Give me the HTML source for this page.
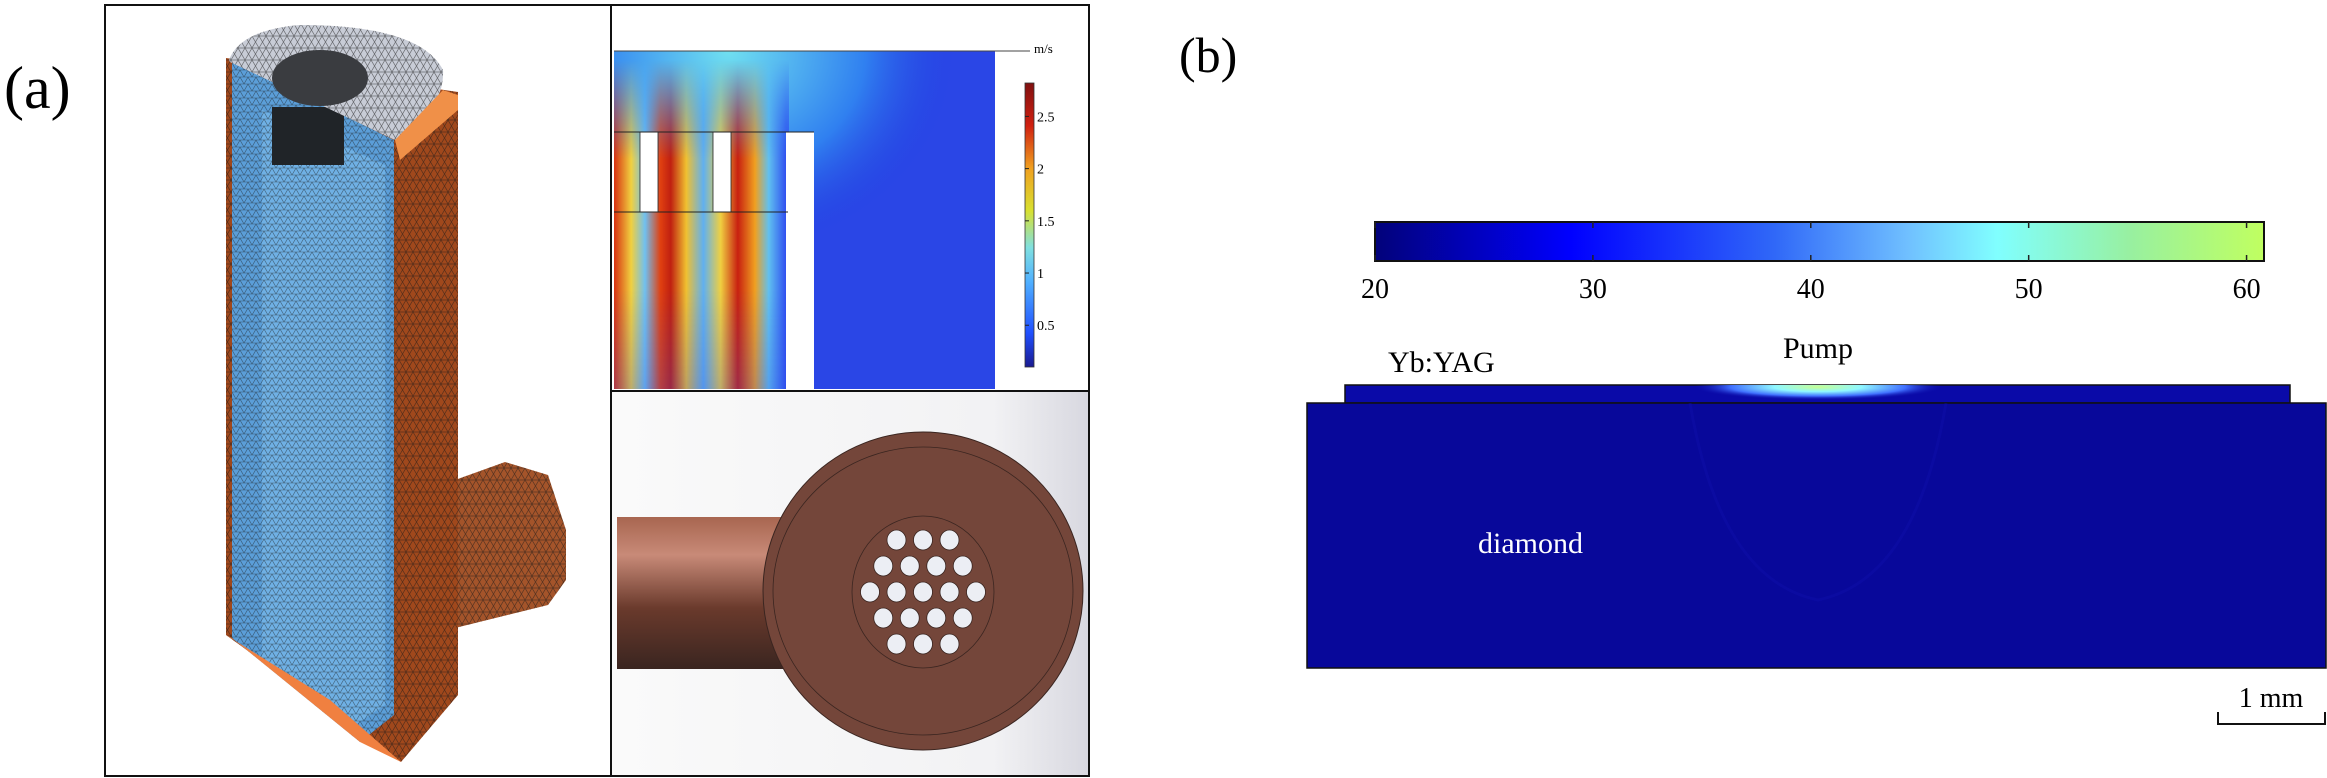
<!DOCTYPE html>
<html><head><meta charset="utf-8"><style>
html,body{margin:0;padding:0;background:#fff;}
svg{display:block;}
text{font-family:"Liberation Serif",serif;}
</style></head><body>
<svg width="2327" height="778" viewBox="0 0 2327 778" xmlns="http://www.w3.org/2000/svg">
<defs>
<pattern id="mesh" width="14" height="12" patternUnits="userSpaceOnUse">
<path d="M0 0H14M0 12H14M0 0L7 12L14 0M0 12L7 0L14 12" stroke="#1a1a1a" stroke-width="0.7" fill="none" opacity="0.55"/>
</pattern>
<pattern id="meshfine" width="8" height="7" patternUnits="userSpaceOnUse">
<path d="M0 0H8M0 7H8M0 0L4 7L8 0" stroke="#1a1a1a" stroke-width="0.6" fill="none" opacity="0.55"/>
</pattern>
<linearGradient id="jetV" x1="0" y1="1" x2="0" y2="0">
<stop offset="0" stop-color="#1a1a90"/><stop offset="0.12" stop-color="#2050ff"/><stop offset="0.3" stop-color="#50b0ff"/><stop offset="0.42" stop-color="#80e0e0"/><stop offset="0.55" stop-color="#d8e030"/><stop offset="0.7" stop-color="#f0a020"/><stop offset="0.85" stop-color="#d02010"/><stop offset="1" stop-color="#801010"/>
</linearGradient>
<linearGradient id="streaks" x1="614" y1="0" x2="786" y2="0" gradientUnits="userSpaceOnUse">
<stop offset="0" stop-color="#d83010"/><stop offset="0.1" stop-color="#f0d040"/><stop offset="0.18" stop-color="#70c0f0"/><stop offset="0.27" stop-color="#e04010"/><stop offset="0.33" stop-color="#c02010"/><stop offset="0.42" stop-color="#f0c030"/><stop offset="0.52" stop-color="#60b0f0"/><stop offset="0.62" stop-color="#f0d040"/><stop offset="0.72" stop-color="#c82010"/><stop offset="0.82" stop-color="#f0a020"/><stop offset="0.9" stop-color="#60c0f0"/><stop offset="1" stop-color="#3050f0"/>
</linearGradient>
<linearGradient id="fade" x1="0" y1="0" x2="0" y2="1">
<stop offset="0" stop-color="#fff" stop-opacity="0"/><stop offset="0.3" stop-color="#fff" stop-opacity="1"/><stop offset="0.7" stop-color="#fff" stop-opacity="1"/><stop offset="1" stop-color="#fff" stop-opacity="0.75"/>
</linearGradient>
<mask id="fmask"><rect x="614" y="60" width="175" height="329" fill="url(#fade)"/></mask>
<radialGradient id="topglow" cx="0.3" cy="0" r="0.6">
<stop offset="0" stop-color="#70e0f0"/><stop offset="0.6" stop-color="#3080f0"/><stop offset="1" stop-color="#2040e0" stop-opacity="0"/>
</radialGradient>
<linearGradient id="pipeG" x1="0" y1="0" x2="0" y2="1">
<stop offset="0" stop-color="#a86650"/><stop offset="0.25" stop-color="#c88a78"/><stop offset="0.6" stop-color="#6a3a2c"/><stop offset="1" stop-color="#3a2520"/>
</linearGradient>
<linearGradient id="bgG" x1="0" y1="0" x2="1" y2="0">
<stop offset="0" stop-color="#fafafa"/><stop offset="0.8" stop-color="#f2f2f4"/><stop offset="1" stop-color="#d8d8e0"/>
</linearGradient>
<linearGradient id="tempG" x1="0" y1="0" x2="1" y2="0">
<stop offset="0" stop-color="#02027a"/><stop offset="0.22" stop-color="#0000ff"/><stop offset="0.45" stop-color="#3068f8"/><stop offset="0.6" stop-color="#70c0ff"/><stop offset="0.7" stop-color="#80ffff"/><stop offset="0.85" stop-color="#98f0a0"/><stop offset="1" stop-color="#c0ff60"/>
</linearGradient>
<radialGradient id="hot" cx="0.5" cy="0.5" r="0.5">
<stop offset="0" stop-color="#c8ff90"/><stop offset="0.35" stop-color="#90f8ff"/><stop offset="0.7" stop-color="#4070ff"/><stop offset="1" stop-color="#0a0aa8" stop-opacity="0"/>
</radialGradient>
<clipPath id="yagclip"><rect x="1345" y="385" width="945" height="18"/></clipPath>
</defs>

<!-- Panel (a) -->
<text x="4" y="108" font-size="60">(a)</text>
<rect x="105" y="5" width="984" height="771" fill="none" stroke="#111" stroke-width="2"/>
<line x1="611" y1="5" x2="611" y2="776" stroke="#111" stroke-width="2"/>
<line x1="611" y1="391" x2="1089" y2="391" stroke="#111" stroke-width="2"/>

<g>
<path d="M455 480 L505 462 L548 475 L566 530 L566 580 L548 605 L455 628 Z" fill="#a4542a"/>
<path d="M455 480 L505 462 L548 475 L566 530 L566 580 L548 605 L455 628 Z" fill="url(#mesh)"/>
<path d="M226 58 L458 92 L458 695 L401 762 L226 635 Z" fill="#a0481c"/>
<path d="M226 58 L458 92 L458 695 L401 762 L226 635 Z" fill="url(#mesh)"/>
<path d="M232 60 L394 140 L394 715 L360 742 L232 638 Z" fill="#5b9ed8"/>
<path d="M262 110 L385 165 L385 705 L355 725 L262 660 Z" fill="#6fb0e4"/>
<path d="M232 60 L394 140 L394 715 L360 742 L232 638 Z" fill="url(#meshfine)"/>
<path d="M226 635 L232 638 L360 742 L401 762 L330 700 Z" fill="#f08040"/>
<rect x="272" y="107" width="72" height="58" fill="#202428"/>
<path d="M229 60 Q240 30 300 25 Q420 25 443 70 Q445 110 395 140 L230 62 Z" fill="#c8ccd6"/>
<path d="M229 60 Q240 30 300 25 Q420 25 443 70 Q445 110 395 140 L230 62 Z" fill="url(#mesh)"/>
<ellipse cx="320" cy="78" rx="48" ry="28" fill="#3a3c40"/>
<path d="M395 140 L443 90 L458 95 L458 110 L400 160 Z" fill="#f09048"/>
</g>

<g>
<rect x="614" y="51" width="381" height="338" fill="#2a46e6"/>
<rect x="614" y="51" width="381" height="338" fill="url(#topglow)"/>
<rect x="614" y="60" width="175" height="329" fill="url(#streaks)" mask="url(#fmask)"/>
<rect x="640" y="132" width="18" height="80" fill="#fff" stroke="#222" stroke-width="0.8"/>
<rect x="713" y="132" width="18" height="80" fill="#fff" stroke="#222" stroke-width="0.8"/>
<rect x="786" y="132" width="28" height="257" fill="#fff"/>
<line x1="614" y1="132" x2="814" y2="132" stroke="#222" stroke-width="1"/>
<line x1="614" y1="212" x2="788" y2="212" stroke="#222" stroke-width="1"/>
<line x1="614" y1="51" x2="1030" y2="51" stroke="#444" stroke-width="1"/>
<text x="1034" y="53" font-size="13" font-family="Liberation Sans">m/s</text>
<rect x="1025" y="83" width="9" height="284" fill="url(#jetV)" stroke="#333" stroke-width="0.8"/>
<g id="vticks"></g>
</g>

<g>
<rect x="612" y="392" width="476" height="383" fill="url(#bgG)"/>
<rect x="617" y="517" width="170" height="152" fill="url(#pipeG)"/>
<ellipse cx="923" cy="591" rx="160" ry="159" fill="#74463a" stroke="#3a2520" stroke-width="1"/>
<ellipse cx="923" cy="591" rx="150" ry="144" fill="none" stroke="#3a2520" stroke-width="0.8"/>
<ellipse cx="923" cy="592" rx="71" ry="76" fill="none" stroke="#3a2520" stroke-width="0.8"/>
<g id="holes"></g>
</g>

<!-- Panel (b) -->
<text x="1179" y="72" font-size="50">(b)</text>
<rect x="1375" y="222" width="889" height="39" fill="url(#tempG)" stroke="#111" stroke-width="2"/>
<g id="tticks"></g>
<text x="1818" y="358" font-size="30" text-anchor="middle">Pump</text>
<text x="1388" y="372" font-size="30">Yb:YAG</text>
<rect x="1345" y="385" width="945" height="18" fill="#0a0aa8" stroke="#111" stroke-width="1.5"/>
<ellipse cx="1818" cy="387" rx="125" ry="13" fill="url(#hot)" clip-path="url(#yagclip)"/>
<rect x="1307" y="403" width="1019" height="265" fill="#08089a" stroke="#111" stroke-width="1.5"/>
<path d="M1690 403 Q1720 580 1818 600 Q1916 580 1946 403" fill="none" stroke="#1212b0" stroke-width="3" opacity="0.35"/>
<text x="1478" y="553" font-size="30" fill="#fff">diamond</text>
<path d="M2218 712 V724 H2325 V712" fill="none" stroke="#111" stroke-width="2"/>
<text x="2271" y="707" font-size="28" text-anchor="middle">1 mm</text>
</svg>
<script>
var tempTicks = [20, 30, 40, 50, 60];
var tempMin = 20, tempMax = 60.8;
var velTicks = [0.5, 1, 1.5, 2, 2.5];
var velMin = 0.1, velMax = 2.82;
var holeRows = [[-1,0,1],[-1.5,-0.5,0.5,1.5],[-2,-1,0,1,2],[-1.5,-0.5,0.5,1.5],[-1,0,1]];

var NS='http://www.w3.org/2000/svg';
function tx(v){return 1375 + (v - tempMin)/(tempMax - tempMin)*889;}
function vy(v){return 367 - (v - velMin)/(velMax - velMin)*284;}
var tg=document.getElementById('tticks');
tempTicks.forEach(function(t){
  var x=tx(t);
  var l=document.createElementNS(NS,'line');
  l.setAttribute('x1',x);l.setAttribute('x2',x);l.setAttribute('y1',222);l.setAttribute('y2',261);
  l.setAttribute('stroke','#222');l.setAttribute('stroke-width','1.5');l.setAttribute('stroke-dasharray','6 27');
  
  
  tg.appendChild(l);
  var s=document.createElementNS(NS,'text');
  s.setAttribute('x',x);s.setAttribute('y',298);s.setAttribute('font-size','28');s.setAttribute('text-anchor','middle');
  s.textContent=t;
  
  
  tg.appendChild(s);
});
var vg=document.getElementById('vticks');
velTicks.forEach(function(v){
  var y=vy(v);
  var l=document.createElementNS(NS,'line');
  l.setAttribute('x1',1025);l.setAttribute('x2',1029);l.setAttribute('y1',y);l.setAttribute('y2',y);l.setAttribute('stroke','#222');
  
  
  vg.appendChild(l);
  var s=document.createElementNS(NS,'text');
  s.setAttribute('x',1037);s.setAttribute('y',y+5);s.setAttribute('font-size','14');s.setAttribute('font-family','Liberation Sans');
  s.textContent=v;
  
  
  vg.appendChild(s);
});
var hg=document.getElementById('holes');
holeRows.forEach(function(row,ri){
  row.forEach(function(c){
    var e=document.createElementNS(NS,'ellipse');
    e.setAttribute('cx',923 + c*26.5);e.setAttribute('cy',592 + (ri-2)*26);
    e.setAttribute('rx',9.5);e.setAttribute('ry',10);
    e.setAttribute('fill','#eceef4');e.setAttribute('stroke','#3a2520');e.setAttribute('stroke-width','0.8');
    
    
    hg.appendChild(e);
  });
});
</script>
</body></html>
